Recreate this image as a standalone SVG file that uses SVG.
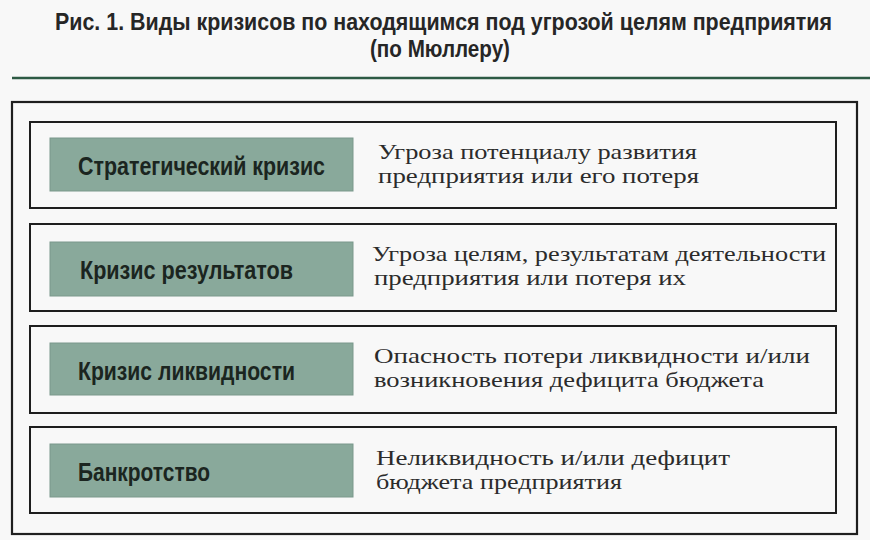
<svg xmlns="http://www.w3.org/2000/svg" width="870" height="540" viewBox="0 0 870 540">
<style>
.title{font-family:"Liberation Sans",Arial,sans-serif;font-weight:bold;font-size:20px;fill:#262626}
.frame{fill:none;stroke:#1e1e1e;stroke-width:2.2}
.row{fill:#f8f8f8;stroke:#1e1e1e;stroke-width:2}
.tag{fill:#89a99b;stroke:#7a988b;stroke-width:1}
.lbl{font-family:"Liberation Sans",Arial,sans-serif;font-weight:bold;font-size:25px;fill:#1b2520}
.desc{font-family:"Liberation Serif","Times New Roman",serif;font-size:21px;fill:#2b2b2b}
</style>
<rect width="870" height="540" fill="#f8f8f8"/>
<g id="title">
<g transform="translate(0,30) scale(1,1.2)">
<text class="title" x="55" y="0" textLength="777" lengthAdjust="spacingAndGlyphs">Рис. 1. Виды кризисов по находящимся под угрозой целям предприятия</text>
</g>
<g transform="translate(0,57) scale(1,1.2)">
<text class="title" x="370" y="0" textLength="140" lengthAdjust="spacingAndGlyphs">(по Мюллеру)</text>
</g>
<line x1="12" y1="78" x2="870" y2="78" stroke="#2d5a44" stroke-width="2.5"/>
</g>
<g id="frame"><rect class="frame" x="12" y="102" width="845" height="432"/></g>
<g id="row1">
<rect class="row" x="30" y="122" width="806" height="86"/>
<rect class="tag" x="50" y="138" width="303" height="53"/>
<text class="lbl" x="78" y="175" textLength="247" lengthAdjust="spacingAndGlyphs">Стратегический кризис</text>
<text class="desc" x="378" y="159" textLength="319" lengthAdjust="spacingAndGlyphs">Угроза потенциалу развития</text>
<text class="desc" x="378" y="183" textLength="321" lengthAdjust="spacingAndGlyphs">предприятия или его потеря</text>
</g>
<g id="row2">
<rect class="row" x="30" y="224" width="806" height="87"/>
<rect class="tag" x="50" y="242" width="303" height="54"/>
<text class="lbl" x="80" y="279" textLength="213" lengthAdjust="spacingAndGlyphs">Кризис результатов</text>
<text class="desc" x="372" y="261" textLength="454" lengthAdjust="spacingAndGlyphs">Угроза целям, результатам деятельности</text>
<text class="desc" x="374" y="285" textLength="312" lengthAdjust="spacingAndGlyphs">предприятия или потеря их</text>
</g>
<g id="row3">
<rect class="row" x="30" y="326" width="806" height="87"/>
<rect class="tag" x="50" y="343" width="303" height="52"/>
<text class="lbl" x="78" y="380" textLength="217" lengthAdjust="spacingAndGlyphs">Кризис ликвидности</text>
<text class="desc" x="374" y="363" textLength="436" lengthAdjust="spacingAndGlyphs">Опасность потери ликвидности и/или</text>
<text class="desc" x="374" y="387" textLength="390" lengthAdjust="spacingAndGlyphs">возникновения дефицита бюджета</text>
</g>
<g id="row4">
<rect class="row" x="30" y="427" width="806" height="86"/>
<rect class="tag" x="50" y="444" width="303" height="53"/>
<text class="lbl" x="78" y="481" textLength="132" lengthAdjust="spacingAndGlyphs">Банкротство</text>
<text class="desc" x="376" y="465" textLength="354" lengthAdjust="spacingAndGlyphs">Неликвидность и/или дефицит</text>
<text class="desc" x="376" y="489" textLength="246" lengthAdjust="spacingAndGlyphs">бюджета предприятия</text>
</g>
</svg>
